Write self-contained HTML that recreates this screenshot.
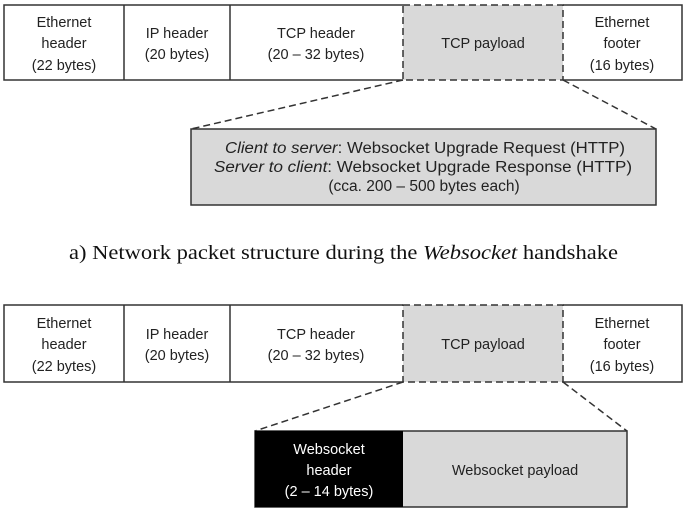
<!DOCTYPE html>
<html><head><meta charset="utf-8"><style>body{margin:0;background:#fff}svg{display:block}</style></head><body>
<svg width="685" height="512" viewBox="0 0 685 512" xmlns="http://www.w3.org/2000/svg" font-family="Liberation Sans, sans-serif" font-size="14.5" fill="#222">
<!-- row a -->
<rect x="403" y="5" width="160" height="75" fill="#d9d9d9"/>
<g stroke="#333" stroke-width="1.5" fill="none">
<polyline points="403,5 4,5 4,80 403,80"/>
<polyline points="563,5 682,5 682,80 563,80"/>
<line x1="124" y1="5" x2="124" y2="80"/><line x1="230" y1="5" x2="230" y2="80"/>
<rect x="403" y="5" width="160" height="75" stroke-dasharray="7,4"/>
<line x1="403" y1="80" x2="191" y2="129" stroke-dasharray="7,4"/>
<line x1="563" y1="80" x2="656" y2="129" stroke-dasharray="7,4"/>
</g>
<g text-anchor="middle">
<text x="64" y="27">Ethernet</text><text x="64" y="48">header</text><text x="64" y="70">(22 bytes)</text>
<text x="177" y="38">IP header</text><text x="177" y="59">(20 bytes)</text>
<text x="316" y="38">TCP header</text><text x="316" y="59">(20 – 32 bytes)</text>
<text x="483" y="48">TCP payload</text>
<text x="622" y="27">Ethernet</text><text x="622" y="48">footer</text><text x="622" y="70">(16 bytes)</text>
</g>
<rect x="191" y="129" width="465" height="76" fill="#d9d9d9" stroke="#333" stroke-width="1.5"/>
<g font-size="15.5">
<text x="225" y="153" textLength="400" lengthAdjust="spacingAndGlyphs"><tspan font-style="italic">Client to server</tspan>: Websocket Upgrade Request (HTTP)</text>
<text x="214" y="172" textLength="418" lengthAdjust="spacingAndGlyphs"><tspan font-style="italic">Server to client</tspan>: Websocket Upgrade Response (HTTP)</text>
<text x="424" y="191" text-anchor="middle">(cca. 200 – 500 bytes each)</text>
</g>
<text x="69" y="259" textLength="549" lengthAdjust="spacingAndGlyphs" font-family="Liberation Serif, serif" font-size="20" fill="#111">a) Network packet structure during the <tspan font-style="italic">Websocket</tspan> handshake</text>
<!-- row b -->
<rect x="403" y="305" width="160" height="77" fill="#d9d9d9"/>
<g stroke="#333" stroke-width="1.5" fill="none">
<polyline points="403,305 4,305 4,382 403,382"/>
<polyline points="563,305 682,305 682,382 563,382"/>
<line x1="124" y1="305" x2="124" y2="382"/><line x1="230" y1="305" x2="230" y2="382"/>
<rect x="403" y="305" width="160" height="77" stroke-dasharray="7,4"/>
<line x1="403" y1="382" x2="255" y2="431" stroke-dasharray="7,4"/>
<line x1="563" y1="382" x2="627" y2="431" stroke-dasharray="7,4"/>
</g>
<g text-anchor="middle">
<text x="64" y="328">Ethernet</text><text x="64" y="349">header</text><text x="64" y="371">(22 bytes)</text>
<text x="177" y="339">IP header</text><text x="177" y="360">(20 bytes)</text>
<text x="316" y="339">TCP header</text><text x="316" y="360">(20 – 32 bytes)</text>
<text x="483" y="349">TCP payload</text>
<text x="622" y="328">Ethernet</text><text x="622" y="349">footer</text><text x="622" y="371">(16 bytes)</text>
</g>
<rect x="255" y="431" width="372" height="76" fill="#d9d9d9" stroke="#333" stroke-width="1.5"/>
<rect x="255" y="431" width="148" height="76" fill="#000"/>
<g text-anchor="middle">
<text x="329" y="454" fill="#fff">Websocket</text>
<text x="329" y="475" fill="#fff">header</text>
<text x="329" y="496" fill="#fff">(2 – 14 bytes)</text>
<text x="515" y="475">Websocket payload</text>
</g>
</svg>
</body></html>
